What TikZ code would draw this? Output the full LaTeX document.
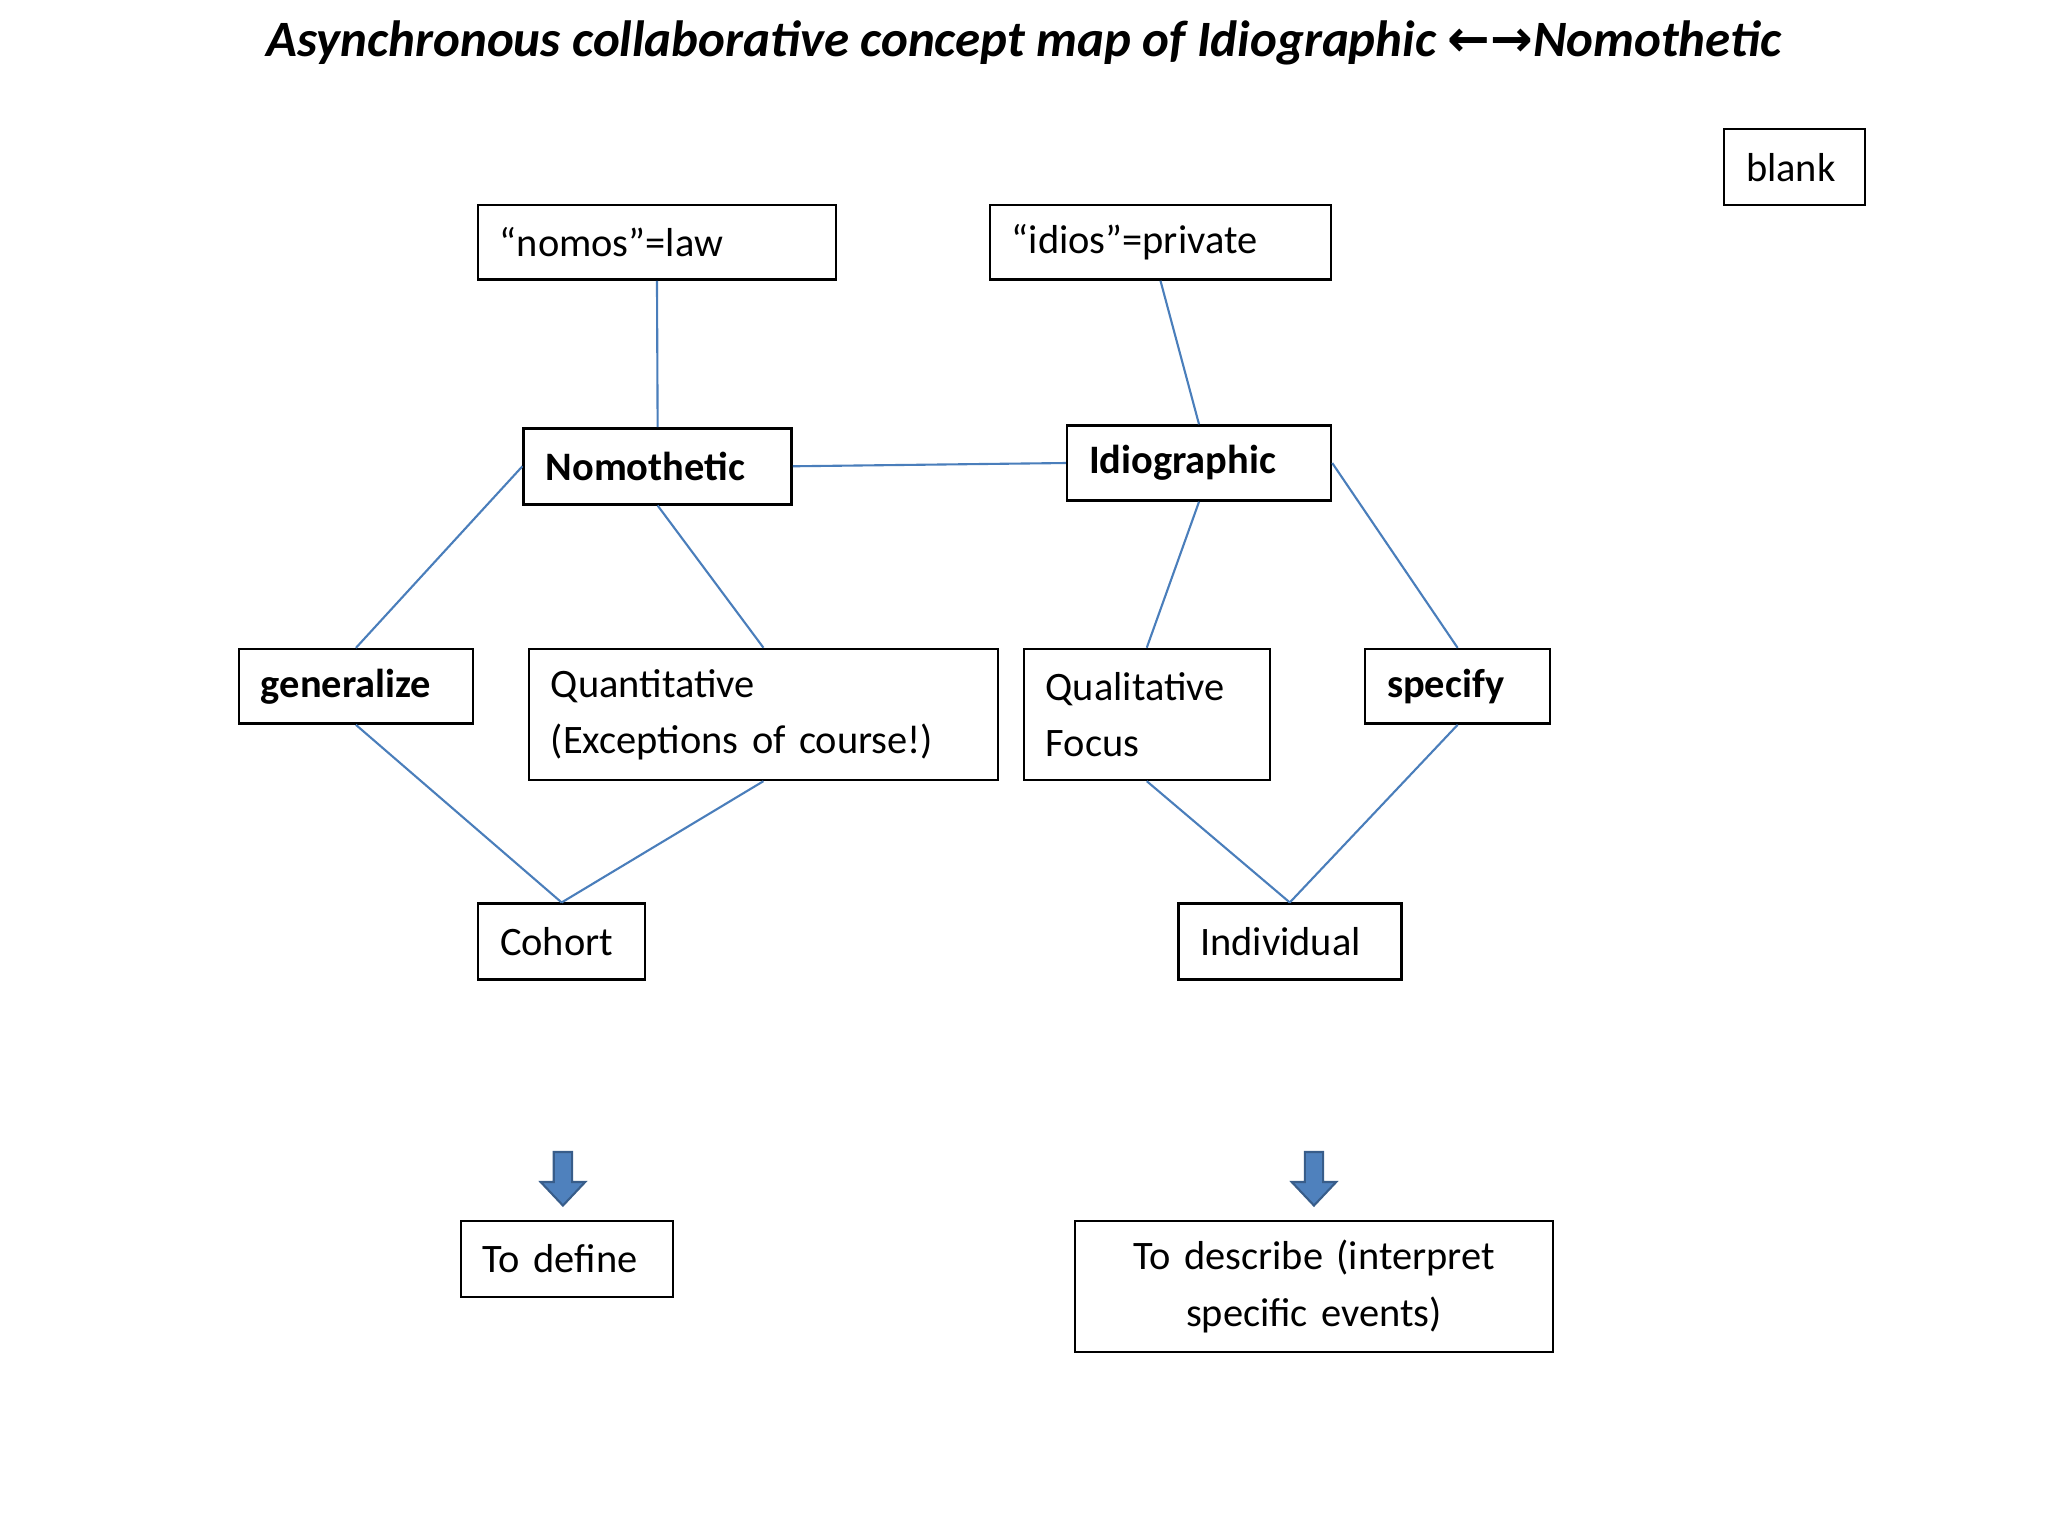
\documentclass[tikz,border=0pt]{standalone}
\usepackage{fontspec}
\setmainfont{Carlito}
\newfontfamily\arrowfont{DejaVu Sans}
\begin{document}
\begin{tikzpicture}[x=0.013061cm,y=-0.013061cm,
  box/.style={draw,line width=0.7pt,inner xsep=0.22cm,inner ysep=0pt,font=\fontsize{11.5}{16}\selectfont,align=left},
  link/.style={draw=blue!45!black!60!cyan!70!black,color={rgb,255:red,74;green,126;blue,187},line width=0.6pt},
  blockarrow/.style={fill={rgb,255:red,79;green,129;blue,189},draw={rgb,255:red,56;green,93;blue,138},line width=0.6pt}]
\useasboundingbox (0,0) rectangle (1568,1176);
\node[font=\fontsize{14.5}{18}\selectfont\bfseries\itshape] (title) at (784,33) {Asynchronous collaborative concept map of Idiographic {\arrowfont\upshape\bfseries ←→}Nomothetic};
\node[box,minimum width=1.41cm,minimum height=0.76cm,text width=0.97cm] (blank) at (1374,128) {blank};
\node[box,minimum width=3.58cm,minimum height=0.745cm,text width=3.14cm] (nomos) at (503,185.5) {“nomos”=law};
\node[box,minimum width=3.41cm,minimum height=0.745cm,text width=2.97cm] (idios) at (888.5,185.5) {“idios”=private};
\node[box,minimum width=2.68cm,minimum height=0.76cm,text width=2.24cm,font=\fontsize{11.5}{16}\selectfont\bfseries] (nomo) at (503.5,357) {Nomothetic};
\node[box,minimum width=2.64cm,minimum height=0.75cm,text width=2.2cm,font=\fontsize{11.5}{16}\selectfont\bfseries] (idio) at (918,354.5) {Idiographic};
\node[box,minimum width=2.34cm,minimum height=0.745cm,text width=1.9cm,font=\fontsize{11.5}{16}\selectfont\bfseries] (gen) at (272.5,525.5) {generalize};
\node[box,minimum width=4.69cm,minimum height=1.31cm,text width=4.25cm] (quant) at (584.5,547) {Quantitative\\(Exceptions of course!)};
\node[box,minimum width=2.46cm,minimum height=1.31cm,text width=2.02cm] (qual) at (878,547) {Qualitative\\Focus};
\node[box,minimum width=1.85cm,minimum height=0.745cm,text width=1.41cm,font=\fontsize{11.5}{16}\selectfont\bfseries] (spec) at (1116,525.5) {specify};
\node[box,minimum width=1.67cm,minimum height=0.76cm,text width=1.23cm] (cohort) at (430,721) {Cohort};
\node[box,minimum width=2.23cm,minimum height=0.76cm,text width=1.79cm] (indiv) at (987.5,721) {Individual};
\node[box,minimum width=2.12cm,minimum height=0.76cm,text width=1.68cm] (define) at (434,964) {To define};
\node[box,minimum width=4.78cm,minimum height=1.31cm,text width=4.34cm,align=center] (describe) at (1006,985) {To describe (interpret\\specific events)};
\draw[link] (nomos.south) -- (nomo.north);
\draw[link] (idios.south) -- (idio.north);
\draw[link] (nomo.east) -- (idio.west);
\draw[link] (nomo.west) -- (gen.north);
\draw[link] (nomo.south) -- (quant.north);
\draw[link] (idio.south) -- (qual.north);
\draw[link] (idio.east) -- (spec.north);
\draw[link] (gen.south) -- (cohort.north);
\draw[link] (quant.south) -- (cohort.north);
\draw[link] (qual.south) -- (indiv.north);
\draw[link] (spec.south) -- (indiv.north);
\foreach \cx in {431,1006}{
  \draw[blockarrow] (\cx-7,882) -- (\cx+7,882) -- (\cx+7,905) -- (\cx+17,905) -- (\cx,923) -- (\cx-17,905) -- (\cx-7,905) -- cycle;
}
\end{tikzpicture}
\end{document}
